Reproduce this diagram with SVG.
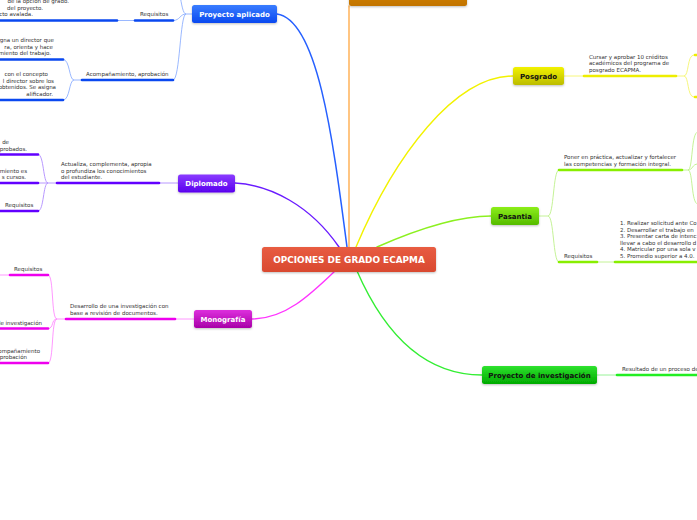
<svg xmlns="http://www.w3.org/2000/svg" width="697" height="520" viewBox="0 0 697 520">
<style>
.t{font-family:"DejaVu Sans","Liberation Sans",sans-serif;font-size:5.5px;fill:#333}
.e{text-anchor:end}
.nl{font-family:"DejaVu Sans","Liberation Sans",sans-serif;font-size:7px;font-weight:bold;text-anchor:middle}
.w{fill:#fff}
.k{fill:#111}
.c{fill:none;stroke-linecap:round}
.th{fill:none;stroke-width:2.6;stroke-linecap:round}
.tn{fill:none;stroke-width:0.9}
</style>
<defs>
<filter id="sh" x="-20%" y="-30%" width="140%" height="170%"><feDropShadow dx="0" dy="1" stdDeviation="1" flood-color="#000" flood-opacity="0.25"/></filter>
<linearGradient id="gB" x1="0" y1="0" x2="0" y2="1"><stop offset="0" stop-color="#3a7dff"/><stop offset="1" stop-color="#0a48f0"/></linearGradient>
<linearGradient id="gP" x1="0" y1="0" x2="0" y2="1"><stop offset="0" stop-color="#8a3cff"/><stop offset="1" stop-color="#5a00ee"/></linearGradient>
<linearGradient id="gM" x1="0" y1="0" x2="0" y2="1"><stop offset="0" stop-color="#dd30dd"/><stop offset="1" stop-color="#a800a8"/></linearGradient>
<linearGradient id="gY" x1="0" y1="0" x2="0" y2="1"><stop offset="0" stop-color="#f2f200"/><stop offset="1" stop-color="#bcbc00"/></linearGradient>
<linearGradient id="gL" x1="0" y1="0" x2="0" y2="1"><stop offset="0" stop-color="#8cee1a"/><stop offset="1" stop-color="#55bb00"/></linearGradient>
<linearGradient id="gG" x1="0" y1="0" x2="0" y2="1"><stop offset="0" stop-color="#2ee22e"/><stop offset="1" stop-color="#00aa00"/></linearGradient>
<linearGradient id="gO" x1="0" y1="0" x2="0" y2="1"><stop offset="0" stop-color="#d8870a"/><stop offset="1" stop-color="#c27400"/></linearGradient>
<linearGradient id="gC" x1="0" y1="0" x2="0" y2="1"><stop offset="0" stop-color="#e85c42"/><stop offset="1" stop-color="#d9492f"/></linearGradient>
</defs>

<g id="connectors">
<path class="c" d="M349,247 L349,6" stroke="#ffad4d" stroke-width="1.4"/>
<path class="c" d="M347,247 C333,140 318,20 277,14" stroke="#2660ff" stroke-width="1.5"/>
<path class="c" d="M339,247 C310,205 270,185 235,183" stroke="#6a1bff" stroke-width="1.4"/>
<path class="c" d="M335,271 C310,295 285,319 252,319" stroke="#ff33ff" stroke-width="1.4"/>
<path class="c" d="M357,271 C385,335 425,375 482,375" stroke="#33ee33" stroke-width="1.4"/>
<path class="c" d="M356,247 C395,155 455,76 513,76" stroke="#f2f200" stroke-width="1.4"/>
<path class="c" d="M377,247 C420,228 460,216 491,216" stroke="#8cf020" stroke-width="1.4"/>

<g stroke="#8fb0ff">
<path class="tn" d="M192,14 L186,14"/>
<path class="tn" d="M186,14 C180,14 180,-25 173,-25"/>
<path class="tn" d="M186,14 C180,14 180,20.5 173,20.5"/>
<path class="tn" d="M186,14 C180,14 180,80 173,80"/>
<path class="tn" d="M117,20.5 L135,20.5"/>
<path class="tn" d="M82,80 L74,80"/>
<path class="tn" d="M74,80 C69,80 70,59.5 63,59.5"/>
<path class="tn" d="M74,80 C69,80 70,100 63,100"/>
</g>
<g stroke="#0a48f0">
<path class="th" d="M135,20.5 L173,20.5"/>
<path class="th" d="M-5,20.5 L117,20.5"/>
<path class="th" d="M82,80 L173,80"/>
<path class="th" d="M-5,59.5 L63,59.5"/>
<path class="th" d="M-5,100 L63,100"/>
</g>

<g stroke="#b08cff">
<path class="tn" d="M178,183 L159,183"/>
<path class="tn" d="M57,183 L48,183"/>
<path class="tn" d="M48,183 C43,183 44,154.5 38,154.5"/>
<path class="tn" d="M48,183 L38,183"/>
<path class="tn" d="M48,183 C43,183 44,211 38,211"/>
</g>
<g stroke="#6200ff">
<path class="th" d="M57,183 L159,183"/>
<path class="th" d="M-5,154.5 L38,154.5"/>
<path class="th" d="M-5,183 L38,183"/>
<path class="th" d="M-5,211 L38,211"/>
</g>

<g stroke="#ff8cff">
<path class="tn" d="M194,319 L175,319"/>
<path class="tn" d="M66,319 L57,319"/>
<path class="tn" d="M57,319 C51,319 54,275 48,275"/>
<path class="tn" d="M57,319 C51,319 54,328.5 48,328.5"/>
<path class="tn" d="M57,319 C51,319 54,363 48,363"/>
<path class="tn" d="M0,275 L10,275"/>
</g>
<g stroke="#ee00ee">
<path class="th" d="M66,319 L175,319"/>
<path class="th" d="M10,275 L48,275"/>
<path class="th" d="M-5,328.5 L48,328.5"/>
<path class="th" d="M-5,363 L48,363"/>
</g>

<g stroke="#f5f56e">
<path class="tn" d="M564,76 L584,76"/>
<path class="tn" d="M676,76 L684,76"/>
<path class="tn" d="M684,76 C689,76 687,55 694,55"/>
<path class="tn" d="M684,76 C689,76 687,97 694,97"/>
</g>
<g stroke="#eeee00">
<path class="th" d="M584,76 L676,76"/>
<path class="th" d="M695,55 L705,55"/>
<path class="th" d="M695,97 L705,97"/>
</g>

<g stroke="#bdf08a">
<path class="tn" d="M539,216 L548,216"/>
<path class="tn" d="M548,216 C554,216 553,170 559,170"/>
<path class="tn" d="M548,216 C554,216 553,262 559,262"/>
<path class="tn" d="M597,262 L615,262"/>
<path class="tn" d="M682,170 L688,170"/>
<path class="tn" d="M688,170 C693,170 691,132 698,132"/>
<path class="tn" d="M688,170 C693,170 692,164 698,164"/>
<path class="tn" d="M688,170 C693,170 691,204 698,204"/>
</g>
<g stroke="#88ee00">
<path class="th" d="M559,170 L682,170"/>
<path class="th" d="M559,262 L597,262"/>
<path class="th" d="M615,262 L705,262"/>
</g>

<path class="tn" d="M597,375 L617,375" stroke="#8cf08c"/>
<path class="th" d="M617,375 L705,375" stroke="#22ee22"/>
</g>

<g id="n-central">
<rect x="262" y="247" width="174" height="25" rx="2.5" fill="url(#gC)" filter="url(#sh)"/>
<text x="349" y="262.6" class="nl w" style="font-size:8.9px">OPCIONES DE GRADO ECAPMA</text>
</g>

<g id="n-orange">
<rect x="349" y="-14" width="118" height="20" rx="2.5" fill="url(#gO)" filter="url(#sh)"/>
</g>

<g id="n-aplicado">
<rect x="192" y="5" width="85" height="18" rx="2.5" fill="url(#gB)" filter="url(#sh)"/>
<text x="234.5" y="16.5" class="nl w">Proyecto aplicado</text>
</g>
<g id="t-aplicado">
<text class="t e"><tspan x="69" y="3">de la opción de grado.</tspan><tspan x="43" y="9.5">del proyecto.</tspan><tspan x="33" y="16">cto avalada.</tspan></text>
<text class="t" x="140" y="16">Requisitos</text>
<text class="t" x="86" y="75.5">Acompañamiento, aprobación</text>
<text class="t e"><tspan x="54" y="42">gna un director que</tspan><tspan x="53" y="48.5">ra, orienta y hace</tspan><tspan x="51" y="55">miento del trabajo.</tspan></text>
<text class="t e"><tspan x="48" y="76">con el concepto</tspan><tspan x="54" y="82.5">l director sobre los</tspan><tspan x="56" y="89">obtenidos. Se asigna</tspan><tspan x="53" y="95.5">alificador.</tspan></text>
</g>

<g id="n-diplomado">
<rect x="178" y="174.5" width="57" height="18" rx="2.5" fill="url(#gP)" filter="url(#sh)"/>
<text x="206.5" y="186" class="nl w">Diplomado</text>
</g>
<g id="t-diplomado">
<text class="t"><tspan x="61" y="166">Actualiza, complementa, apropia</tspan><tspan x="61" y="172.5">o profundiza los conocimientos</tspan><tspan x="61" y="179">del estudiante.</tspan></text>
<text class="t e"><tspan x="9" y="144">de</tspan><tspan x="27" y="150.5">probados.</tspan></text>
<text class="t e"><tspan x="27" y="172.5">miento es</tspan><tspan x="26" y="179">s cursos.</tspan></text>
<text class="t" x="5" y="207">Requisitos</text>
</g>

<g id="n-monografia">
<rect x="194" y="310" width="58" height="18" rx="2.5" fill="url(#gM)" filter="url(#sh)"/>
<text x="223" y="321.5" class="nl w">Monografía</text>
</g>
<g id="t-monografia">
<text class="t"><tspan x="70" y="308">Desarrollo de una investigación con</tspan><tspan x="70" y="314.5">base a revisión de documentos.</tspan></text>
<text class="t" x="14" y="271">Requisitos</text>
<text class="t e" x="42" y="324.5">de investigación</text>
<text class="t e"><tspan x="40" y="352.5">ompañamiento</tspan><tspan x="27" y="359">probación</tspan></text>
</g>

<g id="n-posgrado">
<rect x="513" y="67" width="51" height="18" rx="2.5" fill="url(#gY)" filter="url(#sh)"/>
<text x="538.5" y="78.5" class="nl k">Posgrado</text>
</g>
<g id="t-posgrado">
<text class="t"><tspan x="589" y="58.5">Cursar y aprobar 10 créditos</tspan><tspan x="589" y="65">académicos del programa de</tspan><tspan x="589" y="71.5">posgrado ECAPMA.</tspan></text>
</g>

<g id="n-pasantia">
<rect x="491" y="207" width="48" height="18" rx="2.5" fill="url(#gL)" filter="url(#sh)"/>
<text x="515" y="218.5" class="nl k">Pasantia</text>
</g>
<g id="t-pasantia">
<text class="t"><tspan x="564" y="159">Poner en práctica, actualizar y fortalecer</tspan><tspan x="564" y="165.5">las competencias y formación integral.</tspan></text>
<text class="t" x="564" y="258">Requisitos</text>
<text class="t"><tspan x="620" y="225">1. Realizar solicitud ante Co</tspan><tspan x="620" y="231.5">2. Desarrollar el trabajo en</tspan><tspan x="620" y="238">3. Presentar carta de intenc</tspan><tspan x="620" y="244.5">llevar a cabo el desarrollo d</tspan><tspan x="620" y="251">4. Matricular por una sola v</tspan><tspan x="620" y="257.5">5. Promedio superior a 4.0.</tspan></text>
</g>

<g id="n-investigacion">
<rect x="482" y="366" width="115" height="18" rx="2.5" fill="url(#gG)" filter="url(#sh)"/>
<text x="539.5" y="377.5" class="nl k">Proyecto de investigación</text>
</g>
<g id="t-investigacion">
<text class="t" x="622" y="371">Resultado de un proceso de</text>
</g>
</svg>
